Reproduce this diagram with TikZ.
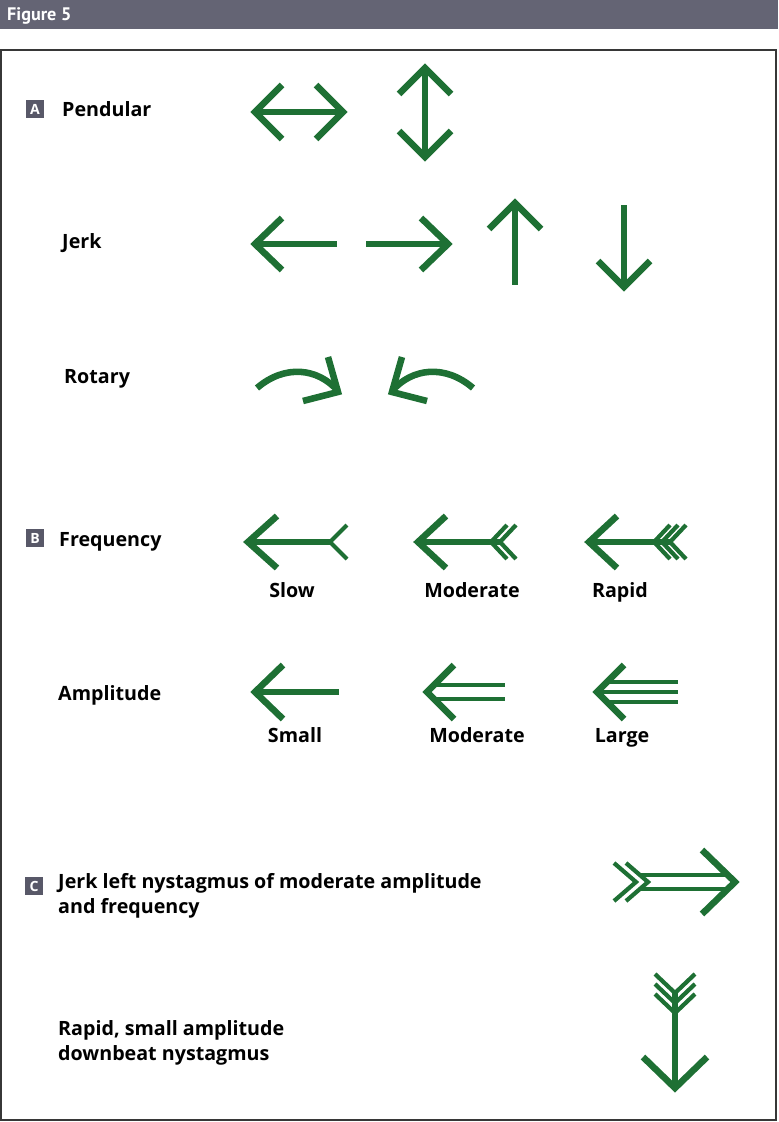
\documentclass[tikz,border=0pt]{standalone}
\usepackage{fontspec}
\setmainfont{Open Sans}
\newfontfamily\titlefont{PT Sans}
\usetikzlibrary{positioning}
\definecolor{nygreen} {RGB}{30, 112, 52}
\definecolor{bargray} {RGB}{100, 100, 116}
\definecolor{taggray} {RGB}{88, 88, 104}
\definecolor{framegray}{RGB}{55, 55, 55}
\tikzset{
  % Row label
  lbl/.style={anchor=base west, inner sep=0pt, align=left,
    font=\fontsize{16.8pt}{20.5pt}\selectfont\bfseries, text=black},
  % Caption under an arrow
  sublbl/.style={anchor=base, inner sep=0pt,
    font=\fontsize{16.8pt}{20.5pt}\selectfont\bfseries, text=black},
  % Section letter in a box
  seclbl/.style={fill=taggray, text=white, minimum size=18*0.03cm, inner sep=0pt,
    font=\fontsize{12pt}{12pt}\selectfont\bfseries},
  % Green strokes
  grn/.style={draw=nygreen, line width=5.6pt, line join=miter, line cap=butt},
  thin/.style={draw=nygreen, line width=3.6pt, line join=miter, line cap=butt},
}

\begin{document}
\begin{tikzpicture}[x=0.03cm, y=-0.03cm]
  \useasboundingbox (0,0) rectangle (778,1122);
  % header and frame
  \fill[bargray] (0,0) rectangle (778,29);
  \node[anchor=base west, inner sep=0pt, text=white,
        font=\titlefont\fontsize{15.5pt}{16pt}\selectfont\bfseries] (title) at (7,21) {Figure 5};
  \draw[framegray, line width=1.7pt] (1,50) rectangle (776,1120);

  % section A
  \node[seclbl] (tagA) at (35,109) {A};
  \node[lbl] (pend)  at (62,116) {Pendular};
  \node[lbl] (jerk)  at (62,248) {Jerk};
  \node[lbl] (rot)   at (64,383) {Rotary};

  \draw[grn] (282,85) -- (255,112) -- (282,139);
  \draw[grn] (316,85) -- (343,112) -- (316,139);
  \draw[grn] (255,112) -- (343,112);
  \draw[grn] (399,94) -- (425,68) -- (451,94);
  \draw[grn] (399,131) -- (425,157) -- (451,131);
  \draw[grn] (425,68) -- (425,157);

  \draw[grn] (282,218) -- (255,244) -- (282,270);
  \draw[grn] (255,244) -- (337,244);
  \draw[grn] (421,218) -- (448,244) -- (421,270);
  \draw[grn] (366,244) -- (448,244);
  \draw[grn] (489,229) -- (515,203) -- (541,229);
  \draw[grn] (515,203) -- (515,285);
  \draw[grn] (598,261) -- (624,287) -- (650,261);
  \draw[grn] (624,205) -- (624,287);

  \draw[grn] (257,388) .. controls (285,364) and (318,368) .. (338,391);
  \draw[grn] (328,357) -- (338,392) -- (303,401);
  \draw[grn] (473,388) .. controls (445,364) and (412,368) .. (392,391);
  \draw[grn] (402,357) -- (392,392) -- (427,401);

  % section B
  \node[seclbl] (tagB) at (35,538) {B};
  \node[lbl] (freq) at (59,546) {Frequency};
  \node[lbl] (ampl) at (58,700) {Amplitude};

  \draw[grn] (277,516) -- (248,542) -- (277,568);
  \draw[grn] (248,542) -- (330,542);
  \draw[thin] (347,525) -- (330,542) -- (347,559);
  \node[sublbl] (slow) at (292,597) {Slow};

  \draw[grn] (446,516) -- (418,542) -- (446,568);
  \draw[grn] (418,542) -- (500,542);
  \foreach \fx in {491,500}
    \draw[thin] (\fx+16,525) -- (\fx,542) -- (\fx+16,559);
  \node[sublbl] (fmod) at (472,597) {Moderate};

  \draw[grn] (617,516) -- (589,542) -- (617,568);
  \draw[grn] (589,542) -- (670,542);
  \foreach \fx in {654,662,670}
    \draw[thin] (\fx+16,525) -- (\fx,542) -- (\fx+16,559);
  \node[sublbl] (rapid) at (620,597) {Rapid};

  \draw[grn] (283,665) -- (255,692) -- (283,719);
  \draw[grn] (255,692) -- (339,692);
  \node[sublbl] (small) at (295,742) {Small};

  \draw[grn] (454,665) -- (427,692) -- (454,719);
  \foreach \sy in {685,699}
    \draw[thin] (434,\sy) -- (505,\sy);
  \node[sublbl] (amod) at (477,742) {Moderate};

  \draw[grn] (624,665) -- (597,692) -- (624,719);
  \foreach \sx/\sy in {606/682,600/692,606/702}
    \draw[thin] (\sx,\sy) -- (678,\sy);
  \node[sublbl] (large) at (622,742) {Large};

  % section C
  \node[seclbl] (tagC) at (34,886) {C};
  \node[lbl] (jleft) at (58,913) {Jerk left nystagmus of moderate amplitude\\and frequency};
  \node[lbl] (down)  at (58,1060) {Rapid, small amplitude\\downbeat nystagmus};

  \draw[grn] (702,850) -- (735,882) -- (702,914);
  \foreach \sy in {875,889}
    \draw[thin] (640,\sy) -- (728,\sy);
  \foreach \fx in {636,648}
    \draw[thin] (\fx-22,863) -- (\fx,882) -- (\fx-22,901);

  \draw[grn] (643,1057) -- (675,1088) -- (707,1057);
  \draw[grn] (675,993) -- (675,1088);
  \foreach \fy in {993,1003,1013}
    \draw[thin] (655,\fy-19) -- (675,\fy) -- (695,\fy-19);
\end{tikzpicture}
\end{document}
